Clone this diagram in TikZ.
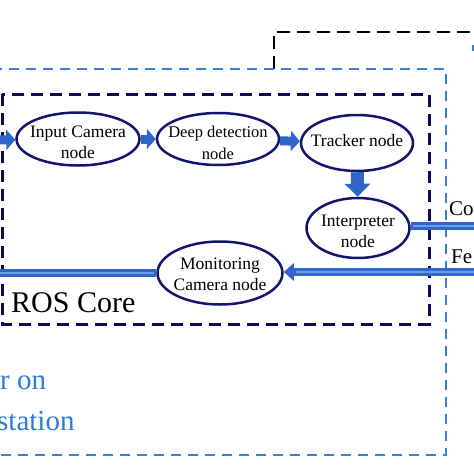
\documentclass[tikz,border=0pt]{standalone}
\usepackage{fontspec}
\setmainfont{Liberation Serif}
\usetikzlibrary{shapes.geometric,arrows.meta}
\definecolor{lblue}{HTML}{3A7FDC}
\definecolor{navy}{HTML}{0B0B5C}
\definecolor{ellc}{HTML}{14146E}
\definecolor{arrc}{HTML}{2F66CC}
\definecolor{arrl}{HTML}{6E9EEA}
\definecolor{tblue}{HTML}{2E7BD6}
\begin{document}
\begin{tikzpicture}[x=1pt,y=-1pt,
  ell/.style={draw=ellc, line width=2.5pt, ellipse, inner sep=0pt, fill=white},
  lbl/.style={align=center, font=\fontsize{17.5}{21}\selectfont, inner sep=0pt},
  blk/.style={draw=arrc, line width=9pt, -{Triangle[length=9pt,width=20pt]}},
  vblk/.style={draw=arrc, line width=13pt, -{Triangle[length=13pt,width=25pt]}},
  longar/.style={draw=arrc, line width=8pt},
  longtip/.style={draw=arrc, line width=8pt, -{Triangle[length=10pt,width=17pt]}},
  inner/.style={draw=arrl, line width=2.5pt},
  lbdash/.style={draw=lblue, line width=2pt, dash pattern=on 10pt off 7pt},
  nvdash/.style={draw=navy, line width=3pt, dash pattern=on 12pt off 7pt},
  bkdash/.style={draw=black, line width=2pt, dash pattern=on 13pt off 7pt}]
\useasboundingbox (0,0) rectangle (474,474);
\clip (0,0) rectangle (474,474);
% frames
\draw[bkdash] (274,69) -- (274,32) -- (480,32);
\draw[lblue, line width=2pt] (473,45) -- (473,51);
\draw[lbdash] (-8,69) -- (446,69) -- (446,455) -- (-8,455);
\draw[nvdash] (2,94) rectangle (429,324);
% nodes
\node[ell, minimum width=123pt, minimum height=53pt] (inp) at (78,139) {};
\node[ell, minimum width=122pt, minimum height=52pt] (deep) at (218,139) {};
\node[ell, minimum width=112pt, minimum height=56pt] (trk) at (357,143) {};
\node[ell, minimum width=103pt, minimum height=60pt] (intp) at (358,228) {};
\node[ell, minimum width=125pt, minimum height=63pt] (mon) at (220,273) {};
\node[lbl] (inpt) at (78,142) {Input Camera\\node};
\node[lbl, font=\fontsize{16.5}{22}\selectfont] (deept) at (218,143) {Deep detection\\node};
\node[lbl] (trkt) at (357,141) {Tracker node};
\node[lbl] (intpt) at (358,231) {Interpreter\\node};
\node[lbl] (mont) at (220,274) {Monitoring\\Camera node};
% free ends
\coordinate (inL) at (-8,140);
\coordinate (cmdR) at (480,226);
\coordinate (fbR) at (480,272);
\coordinate (monL) at (-8,273);
% block arrows
\draw[blk] (inL) -- (inp);
\draw[blk] (inp) -- (deep);
\draw[blk] (deep) -- (trk);
\draw[vblk] (trk) -- (intp);
% long arrows
\draw[longar] (intp.east |- cmdR) -- (cmdR);
\draw[inner] ([xshift=2pt]intp.east |- cmdR) -- (cmdR);
\draw[longtip] (fbR) -- (mon.east |- fbR);
\draw[inner] (fbR) -- ([xshift=12pt]mon.east |- fbR);
\draw[longar] (mon.west |- monL) -- (monL);
\draw[inner] ([xshift=-2pt]mon.west |- monL) -- (monL);
% labels
\node[anchor=base west, inner sep=0pt, font=\fontsize{30}{36}\selectfont] (ros) at (11,312) {ROS Core};
\node[anchor=base west, inner sep=0pt, text=tblue, font=\fontsize{29}{35}\selectfont] (ron) at (0,389) {r on};
\node[anchor=base west, inner sep=0pt, text=tblue, font=\fontsize{29}{35}\selectfont] (stat) at (-3,430) {station};
\node[anchor=base west, inner sep=0pt, font=\fontsize{21}{25}\selectfont] (co) at (449,215) {Co};
\node[anchor=base west, inner sep=0pt, font=\fontsize{21}{25}\selectfont] (fe) at (451,263) {Fe};
\end{tikzpicture}
\end{document}
